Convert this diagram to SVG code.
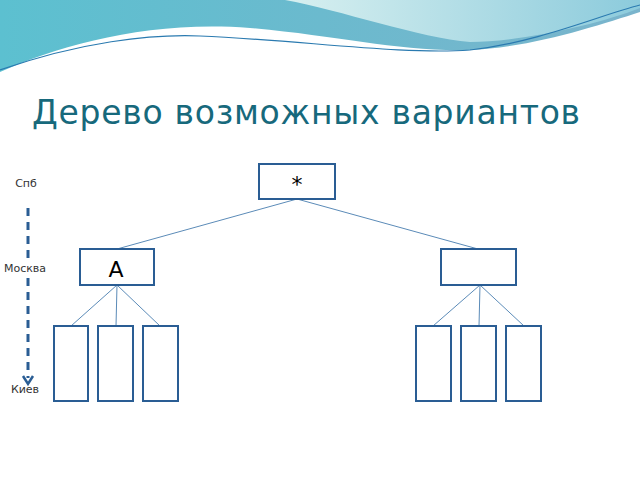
<svg xmlns="http://www.w3.org/2000/svg" width="640" height="480" viewBox="0 0 640 480">
<defs>
<linearGradient id="g1" x1="0" y1="0" x2="1" y2="0"><stop offset="0" stop-color="#5cc0d0"/><stop offset="1" stop-color="#7ab4cc"/></linearGradient>
<linearGradient id="g2" x1="0" y1="0" x2="1" y2="0"><stop offset="0" stop-color="#d8f0f0"/><stop offset="1" stop-color="#8ccbdc"/></linearGradient>
<style>
.b{fill:#fff;stroke:#2a5d94;stroke-width:2}
.c{stroke:#5b8bb8;stroke-width:1;fill:none}
.s{font-family:"DejaVu Sans",sans-serif;font-size:11px;fill:#333}
</style>
</defs>
<rect width="640" height="480" fill="#fff"/>
<path d="M0 0H640V12C600 25 530 48 470 50C400 52 340 36 250 28C150 20 60 45 0 72Z" fill="url(#g1)"/>
<path d="M285 0H640V8C600 24 520 42 470 42C420 38 340 10 285 0Z" fill="url(#g2)"/>
<path d="M0 70C80 42 150 34 200 36C300 40 400 55 470 50C540 42 600 15 640 5" fill="none" stroke="#2a7ab0" stroke-width="1.2"/>
<text x="32" y="124" font-family="'DejaVu Sans',sans-serif" font-size="33" textLength="548" fill="#17697c">Дерево возможных вариантов</text>
<g id="connectors">
<path class="c" d="M297 199L117 249M297 199L478 249M117 285L71 326M117 285L116 326M117 285L160 326M480 285L433 326M480 285L479 326M480 285L524 326"/>
<path d="M28 208V378" stroke="#2a5d94" stroke-width="3" stroke-dasharray="8,6"/>
<path d="M23 376L28 384L33 376" stroke="#2a5d94" stroke-width="2.5" fill="none"/>
</g>
<g id="n-root"><rect class="b" x="259" y="164" width="76" height="35"/><text x="297" y="192" text-anchor="middle" font-family="'DejaVu Sans',sans-serif" font-size="22">*</text></g>
<g id="n-a"><rect class="b" x="80" y="249" width="74" height="36"/><text x="116" y="277" text-anchor="middle" font-family="'DejaVu Sans',sans-serif" font-size="22">А</text></g>
<g id="n-b"><rect class="b" x="441" y="249" width="75" height="36"/></g>
<g id="n-a1"><rect class="b" x="54" y="326" width="34" height="75"/></g>
<g id="n-a2"><rect class="b" x="98" y="326" width="35" height="75"/></g>
<g id="n-a3"><rect class="b" x="143" y="326" width="35" height="75"/></g>
<g id="n-b1"><rect class="b" x="416" y="326" width="35" height="75"/></g>
<g id="n-b2"><rect class="b" x="461" y="326" width="35" height="75"/></g>
<g id="n-b3"><rect class="b" x="506" y="326" width="35" height="75"/></g>
<text class="s" x="26" y="187" text-anchor="middle">Спб</text>
<rect x="4" y="262" width="42" height="13" fill="#fff"/>
<text class="s" x="25" y="272" text-anchor="middle">Москва</text>
<text class="s" x="25" y="393" text-anchor="middle">Киев</text>
</svg>
